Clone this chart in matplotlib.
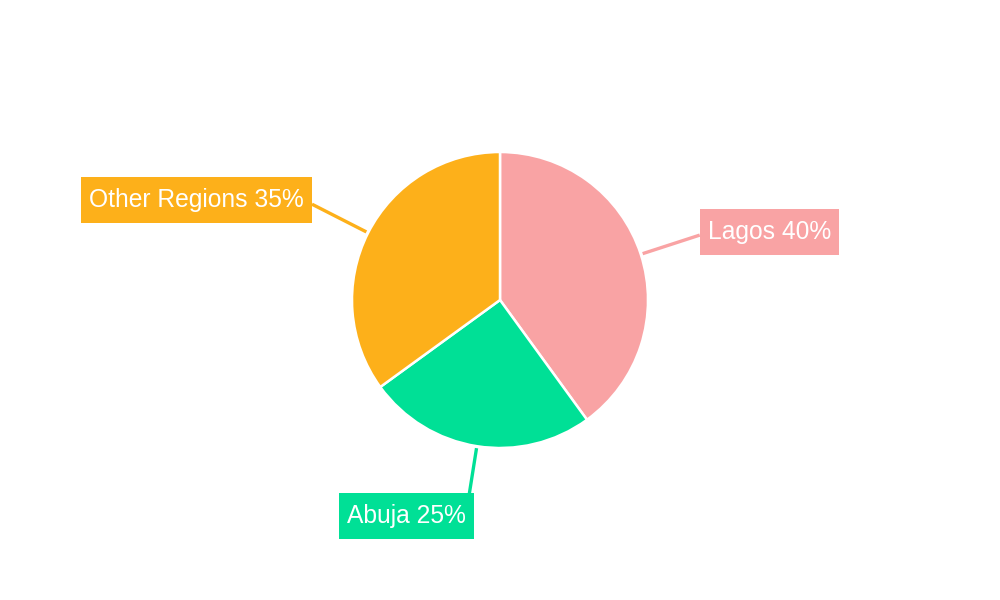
import numpy as np
import matplotlib
matplotlib.use('Agg')
import matplotlib.pyplot as plt

plt.rcParams['font.family'] = ['Liberation Sans', 'DejaVu Sans']

regions = ['Lagos', 'Abuja', 'Other Regions']
shares = [40, 25, 35]
colors = ['#F9A3A4', '#00E096', '#FDB01A']

# leader line length (px from centre) and text offset from line end (dx, dy, ha)
line_r = [210, 196, 211]
text_off = [(8, -3, 'left'), (-3, 22, 'right'), (-8, -4, 'right')]

fig = plt.figure(figsize=(10, 6), dpi=100)
ax = fig.add_axes([0, 0, 1, 1])

cx, cy, r = 500, 300, 148

# y axis is inverted, so counterclock=True draws clockwise on screen
wedges, _ = ax.pie(shares, colors=colors, startangle=-90, counterclock=True,
                   center=(cx, cy), radius=r, frame=True,
                   wedgeprops=dict(edgecolor='white', linewidth=1.8))
ax.set_xlim(0, 1000)
ax.set_ylim(600, 0)
ax.axis('off')

for w, name, s, c, lr, (dx, dy, ha) in zip(wedges, regions, shares, colors, line_r, text_off):
    ang = np.deg2rad((w.theta1 + w.theta2) / 2)
    x0, y0 = cx + (r + 2) * np.cos(ang), cy + (r + 2) * np.sin(ang)
    x1, y1 = cx + lr * np.cos(ang), cy + lr * np.sin(ang)
    ax.plot([x0, x1], [y0, y1], color=c, lw=2.4, solid_capstyle='butt')
    ax.text(x1 + dx, y1 + dy, f'{name} {s}%', ha=ha, va='center',
            fontsize=17.7, color='white',
            bbox=dict(boxstyle='square,pad=0.33', mutation_aspect=1.35,
                      facecolor=c, edgecolor='none'))

fig.savefig('out.png', dpi=100)
